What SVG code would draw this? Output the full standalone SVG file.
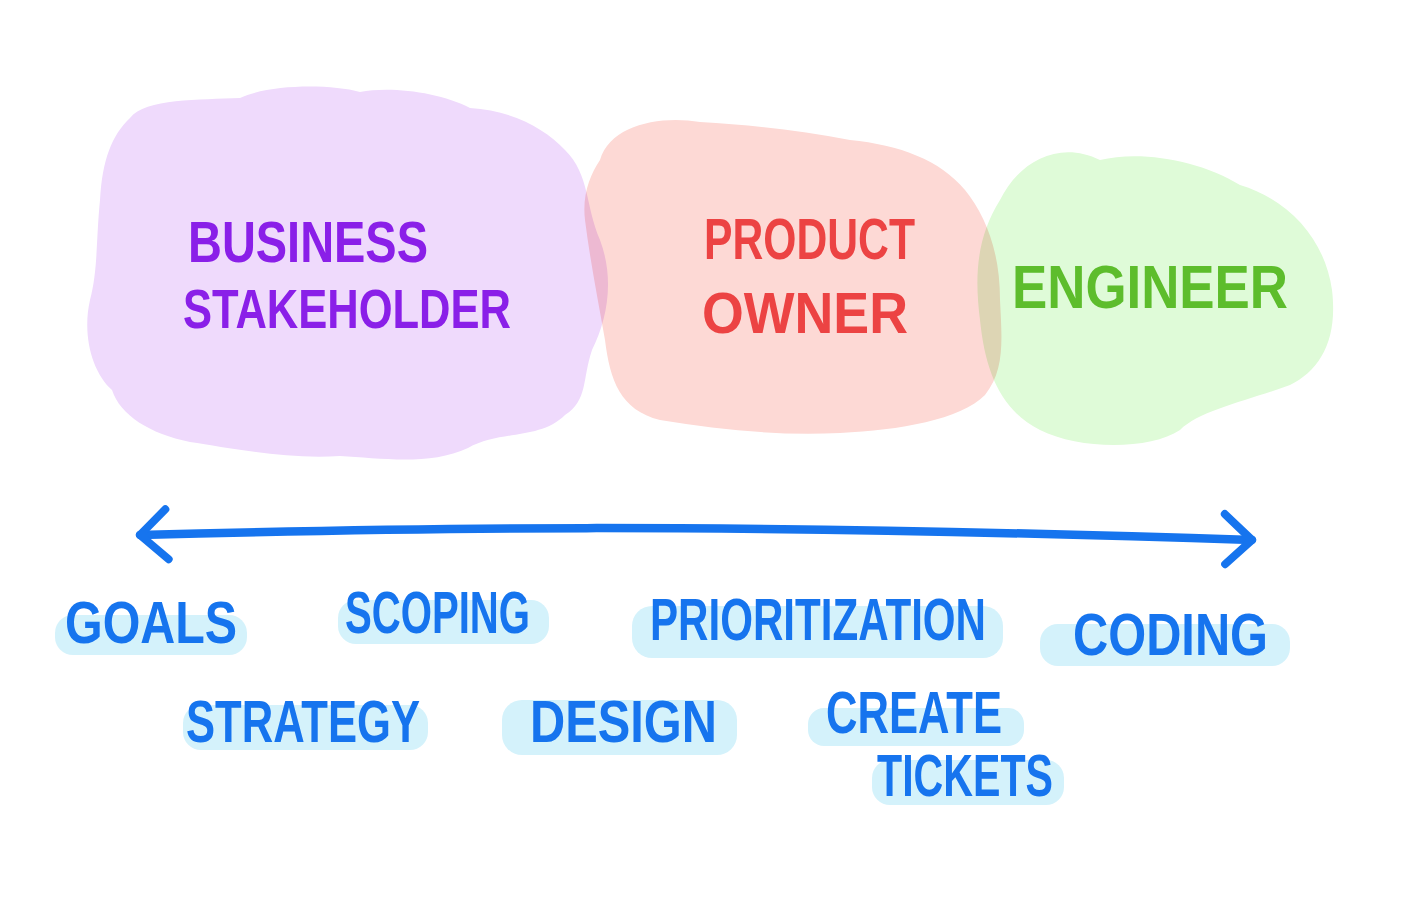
<svg xmlns="http://www.w3.org/2000/svg" width="1408" height="916" viewBox="0 0 1408 916">
<style>
.cloud{mix-blend-mode:multiply}
.t{font-family:"Liberation Sans",Arial,sans-serif;font-weight:bold}
.lbl{font-family:"Liberation Sans",Arial,sans-serif;font-weight:bold;fill:#1674ee}
.hl{fill:#d4f2fb}
</style>
<defs>
<marker id="chev" viewBox="0 0 40 56" refX="36" refY="28" markerWidth="40" markerHeight="56" markerUnits="userSpaceOnUse" orient="auto-start-reverse" overflow="visible">
<path d="M 8 3 L 36 28 L 10 53" fill="none" stroke="#1674ee" stroke-width="8" stroke-linecap="round" stroke-linejoin="round"/>
</marker>
</defs>
<rect width="1408" height="916" fill="#ffffff"/>
<g id="business-stakeholder">
<path class="cloud" fill="#efdafc" d="M 130 118 C 145 98, 200 100, 240 98 C 270 84, 330 84, 360 92 C 390 86, 440 92, 470 108 C 510 110, 545 128, 565 150 C 590 175, 585 205, 600 240 C 615 280, 607 320, 592 350 C 582 380, 588 400, 565 415 C 540 440, 500 430, 468 448 C 430 466, 380 458, 340 456 C 290 460, 230 448, 190 442 C 150 434, 120 415, 112 390 C 92 372, 82 335, 90 300 C 98 270, 96 240, 100 200 C 102 160, 112 135, 130 118 Z"/>
<text class="t" x="188" y="262" font-size="58" fill="#8a1fe8" textLength="240" lengthAdjust="spacingAndGlyphs">BUSINESS</text>
<text class="t" x="183" y="328" font-size="56" fill="#8a1fe8" textLength="328" lengthAdjust="spacingAndGlyphs">STAKEHOLDER</text>
</g>
<g id="product-owner">
<path class="cloud" fill="#fdd9d5" d="M 600 160 C 610 125, 660 115, 700 122 C 750 125, 800 130, 850 140 C 900 145, 940 160, 965 190 C 985 215, 1000 250, 1000 300 C 1002 340, 1005 370, 985 395 C 960 420, 900 430, 840 433 C 780 436, 720 430, 660 420 C 620 410, 610 380, 605 340 C 598 300, 590 260, 585 220 C 582 195, 590 175, 600 160 Z"/>
<text class="t" x="704" y="259" font-size="58" fill="#ec4343" textLength="211" lengthAdjust="spacingAndGlyphs">PRODUCT</text>
<text class="t" x="702" y="333" font-size="58" fill="#ec4343" textLength="206" lengthAdjust="spacingAndGlyphs">OWNER</text>
</g>
<g id="engineer">
<path class="cloud" fill="#dffbd8" d="M 1000 200 C 1020 160, 1060 140, 1100 160 C 1140 150, 1200 160, 1240 185 C 1290 200, 1325 240, 1332 290 C 1338 340, 1320 370, 1290 385 C 1250 400, 1200 410, 1180 430 C 1150 450, 1080 450, 1040 430 C 1000 410, 985 370, 980 320 C 975 280, 975 240, 1000 200 Z"/>
<text class="t" x="1012" y="308" font-size="62" fill="#5dbd2c" textLength="276" lengthAdjust="spacingAndGlyphs">ENGINEER</text>
</g>
<g id="connectors">
<path d="M 140 535 C 400 528, 700 522, 1252 540" fill="none" stroke="#1674ee" stroke-width="8.5" stroke-linecap="round" marker-start="url(#chev)" marker-end="url(#chev)"/>
</g>
<g id="goals">
<rect class="hl" x="55" y="615" width="192" height="40" rx="18"/>
<text class="lbl" x="65" y="643" font-size="60" textLength="172" lengthAdjust="spacingAndGlyphs">GOALS</text>
</g>
<g id="scoping">
<rect class="hl" x="338" y="600" width="211" height="44" rx="18"/>
<text class="lbl" x="345" y="633" font-size="60" textLength="185" lengthAdjust="spacingAndGlyphs">SCOPING</text>
</g>
<g id="prioritization">
<rect class="hl" x="632" y="606" width="371" height="52" rx="20"/>
<text class="lbl" transform="translate(650,640) scale(1,1.25)" x="0" y="0" font-size="48" textLength="336" lengthAdjust="spacingAndGlyphs">PRIORITIZATION</text>
</g>
<g id="coding">
<rect class="hl" x="1040" y="624" width="250" height="42" rx="18"/>
<text class="lbl" x="1073" y="655" font-size="60" textLength="195" lengthAdjust="spacingAndGlyphs">CODING</text>
</g>
<g id="strategy">
<rect class="hl" x="183" y="705" width="245" height="45" rx="18"/>
<text class="lbl" x="186" y="742" font-size="60" textLength="234" lengthAdjust="spacingAndGlyphs">STRATEGY</text>
</g>
<g id="design">
<rect class="hl" x="502" y="700" width="235" height="55" rx="20"/>
<text class="lbl" x="530" y="742" font-size="60" textLength="187" lengthAdjust="spacingAndGlyphs">DESIGN</text>
</g>
<g id="create-tickets">
<rect class="hl" x="808" y="708" width="216" height="38" rx="16"/>
<rect class="hl" x="872" y="760" width="192" height="45" rx="18"/>
<text class="lbl" x="826" y="733" font-size="60" textLength="176" lengthAdjust="spacingAndGlyphs">CREATE</text>
<text class="lbl" x="877" y="796" font-size="60" textLength="176" lengthAdjust="spacingAndGlyphs">TICKETS</text>
</g>
</svg>
